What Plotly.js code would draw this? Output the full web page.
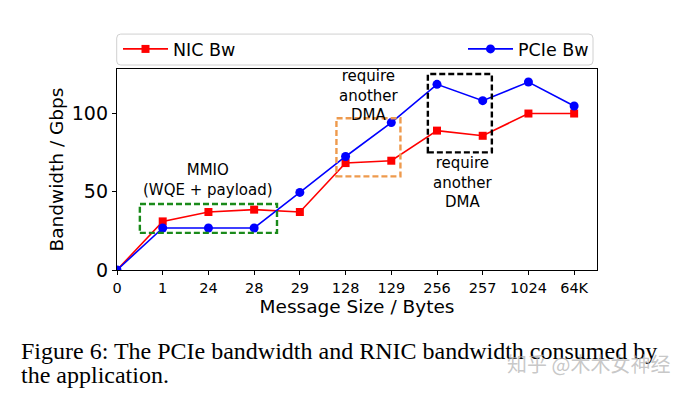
<!DOCTYPE html>
<html>
<head>
<meta charset="utf-8">
<script src="https://cdn.plot.ly/plotly-3.0.1.min.js"></script>
<style>html,body{margin:0;padding:0;background:#fff;}#chart{width:688px;height:394px;}</style>
</head>
<body>
<div id="chart"></div>
<script>
// ---- data ----
const categories = ['0', '1', '24', '28', '29', '128', '129', '256', '257', '1024', '64K'];
const nicBw  = [0, 31.0, 37.0, 38.5, 37.0, 68.2, 69.7, 88.9, 85.6, 99.8, 99.8];
const pcieBw = [0, 26.8, 26.8, 26.8, 49.5, 72.4, 94.0, 118.4, 108.0, 119.9, 104.6];
const yTicks = [0, 50, 100];
const captionLines = ['Figure 6: The PCIe bandwidth and RNIC bandwidth consumed by', 'the application.'];

// ---- layout geometry (pixels) ----
const W = 688, H = 394;
const L = 117, R = 597, T = 69, B = 270.5;
const px = x => (x - L) / (R - L);
const py = y => (B - y) / (B - T);
const FONT = 'DejaVu Sans, sans-serif';
const SERIF = 'Liberation Serif, Times New Roman, serif';

const traces = [
  {
    x: categories.map((c, i) => i), y: nicBw, name: 'NIC Bw', type: 'scatter', mode: 'lines+markers',
    line: {color: '#ff0000', width: 1.6},
    marker: {symbol: 'square', size: 8, color: '#ff0000'},
    legend: 'legend'
  },
  {
    x: categories.map((c, i) => i), y: pcieBw, name: 'PCIe Bw', type: 'scatter', mode: 'lines+markers',
    line: {color: '#0000ff', width: 1.6},
    marker: {symbol: 'circle', size: 9, color: '#0000ff'},
    legend: 'legend2'
  }
];

const box = (x0, x1, y0, y1, color) => ({
  type: 'rect', xref: 'x', yref: 'y', x0, x1, y0, y1,
  line: {color, width: 2.4, dash: '6px,3px'}, fillcolor: 'rgba(0,0,0,0)'
});

// rounded legend frame (pixel corners -> paper)
function roundRect(x0, y0, x1, y1, r) {
  const X = v => px(v), Y = v => py(v);
  return 'M' + X(x0 + r) + ',' + Y(y0) +
    ' L' + X(x1 - r) + ',' + Y(y0) + ' Q' + X(x1) + ',' + Y(y0) + ' ' + X(x1) + ',' + Y(y0 + r) +
    ' L' + X(x1) + ',' + Y(y1 - r) + ' Q' + X(x1) + ',' + Y(y1) + ' ' + X(x1 - r) + ',' + Y(y1) +
    ' L' + X(x0 + r) + ',' + Y(y1) + ' Q' + X(x0) + ',' + Y(y1) + ' ' + X(x0) + ',' + Y(y1 - r) +
    ' L' + X(x0) + ',' + Y(y0 + r) + ' Q' + X(x0) + ',' + Y(y0) + ' ' + X(x0 + r) + ',' + Y(y0) + ' Z';
}

const layout = {
  width: W, height: H,
  margin: {l: L, r: W - R, t: T, b: H - B, pad: 0},
  paper_bgcolor: '#fff', plot_bgcolor: '#fff',
  showlegend: true,
  font: {family: FONT, color: '#000'},
  xaxis: {
    tickmode: 'array', tickvals: categories.map((c, i) => i), ticktext: categories,
    range: [0, 10.5], autorange: false, showgrid: false, zeroline: false,
    showline: true, linecolor: '#000', linewidth: 1.2, mirror: true,
    ticks: 'outside', ticklen: 4, tickwidth: 1, tickcolor: '#000',
    tickfont: {family: FONT, size: 14.5, color: '#000'},
    title: {text: 'Message Size / Bytes', font: {family: FONT, size: 18.5, color: '#000'}, standoff: 4}
  },
  yaxis: {
    tickmode: 'array', tickvals: yTicks, ticktext: yTicks.map(String),
    range: [0, 128.2], autorange: false, showgrid: false, zeroline: false,
    showline: true, linecolor: '#000', linewidth: 1.2, mirror: true,
    ticks: 'outside', ticklen: 4, tickwidth: 1, tickcolor: '#000',
    tickfont: {family: FONT, size: 19, color: '#000'},
    title: {text: 'Bandwidth / Gbps', font: {family: FONT, size: 18.5, color: '#000'}, standoff: 3}
  },
  legend: {
    x: px(118), xanchor: 'left', y: py(49), yanchor: 'middle',
    bgcolor: 'rgba(0,0,0,0)', borderwidth: 0, orientation: 'h', itemwidth: 45,
    font: {family: FONT, size: 17.5, color: '#000'}
  },
  legend2: {
    x: px(594), xanchor: 'right', y: py(49), yanchor: 'middle',
    bgcolor: 'rgba(0,0,0,0)', borderwidth: 0, orientation: 'h', itemwidth: 45,
    font: {family: FONT, size: 17.5, color: '#000'}
  },
  shapes: [
    {type: 'path', xref: 'paper', yref: 'paper', path: roundRect(116.7, 34, 593, 65, 4),
     line: {color: '#d0d0d0', width: 1}, fillcolor: 'rgba(255,255,255,0.8)', layer: 'below'},
    box(0.5, 3.5, 23.7, 42.1, '#1a8a1a'),
    box(4.8, 6.2, 59.7, 96.8, '#ee9a4d'),
    box(6.8, 8.2, 75, 125, '#000000')
  ],
  annotations: [
    {xref: 'x', yref: 'y', x: 2, y: 57.6, text: 'MMIO<br>(WQE + payload)', showarrow: false,
     font: {family: FONT, size: 15, color: '#000'}, align: 'center'},
    {xref: 'x', yref: 'y', x: 5.5, y: 111.6, text: 'require<br>another<br>DMA', showarrow: false,
     font: {family: FONT, size: 15, color: '#000'}, align: 'center'},
    {xref: 'x', yref: 'y', x: 7.55, y: 55.5, text: 'require<br>another<br>DMA', showarrow: false,
     font: {family: FONT, size: 15, color: '#000'}, align: 'center'},
    {xref: 'paper', yref: 'paper', x: px(19), xanchor: 'left', y: py(352), yanchor: 'middle',
     text: captionLines[0], showarrow: false, align: 'left',
     font: {family: SERIF, size: 24, color: '#000'}},
    {xref: 'paper', yref: 'paper', x: px(19), xanchor: 'left', y: py(376), yanchor: 'middle',
     text: captionLines[1], showarrow: false, align: 'left',
     font: {family: SERIF, size: 24, color: '#000'}},
    {xref: 'paper', yref: 'paper', x: px(588), xanchor: 'center', y: py(364), yanchor: 'middle',
     text: '知乎 @木木女神经', showarrow: false,
     font: {family: 'Noto Sans CJK SC, sans-serif', size: 20, color: 'rgba(175,175,175,0.7)'}}
  ]
};

Plotly.newPlot('chart', traces, layout, {displayModeBar: false, staticPlot: true});
</script>
</body>
</html>
